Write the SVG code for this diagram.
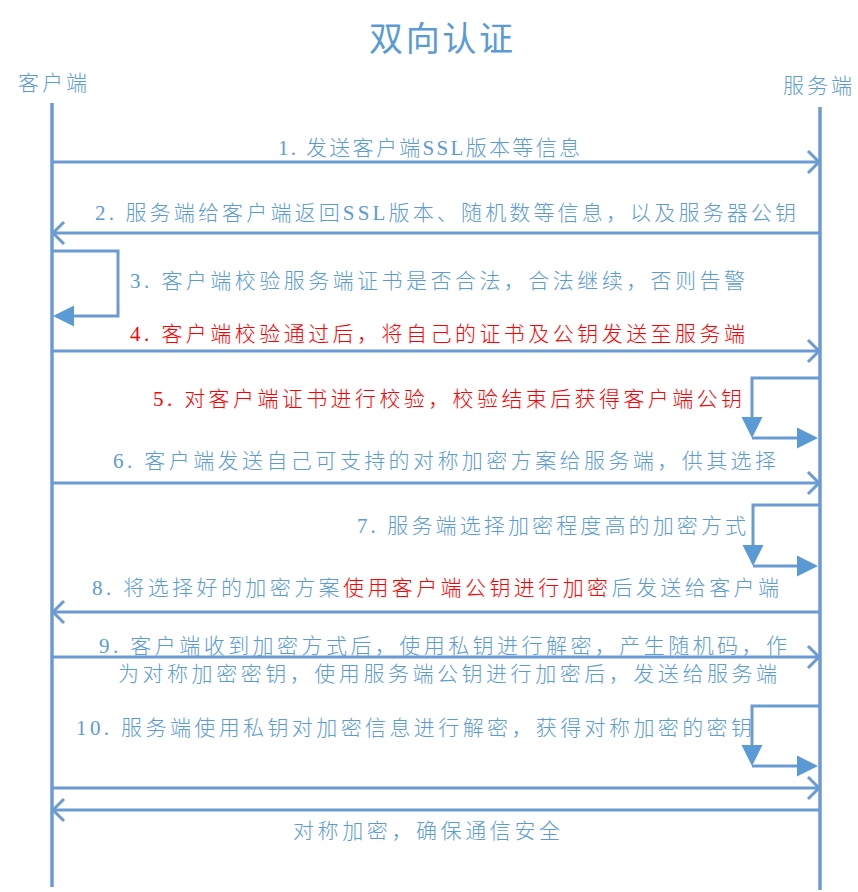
<svg xmlns="http://www.w3.org/2000/svg" width="858" height="892" viewBox="0 0 858 892">
<style>
.t{font-family:"Liberation Serif","Noto Sans CJK SC",serif;font-size:21px;font-weight:300;fill:#5b9bd5}
.r{fill:#ff0000}
.h{font-family:"Noto Sans CJK SC",sans-serif;font-size:34px;font-weight:400}
.lf{stroke:#6b9bd2;stroke-width:3.5;fill:none}
.c{stroke:#6b9bd2;stroke-width:3;fill:none}
</style>
<defs>
<marker id="open" markerUnits="userSpaceOnUse" viewBox="-14 -14 16 28" markerWidth="16" markerHeight="28" refX="0" refY="0" orient="auto" overflow="visible">
<path d="M-11,-11 L0,0 L-11,11" fill="none" stroke="#6b9bd2" stroke-width="3"/>
</marker>
<marker id="tri" markerUnits="userSpaceOnUse" viewBox="-19 -11 23 22" markerWidth="23" markerHeight="22" refX="0" refY="0" orient="auto" overflow="visible">
<path d="M-18,-10.5 L3,0 L-18,10.5 Z" fill="#5b9bd5"/>
</marker>
</defs>
<rect width="858" height="892" fill="#ffffff"/>
<text class="t h" x="369" y="51" textLength="144" lengthAdjust="spacing">双向认证</text>
<g id="client">
<text class="t" x="18" y="90" textLength="69" lengthAdjust="spacing">客户端</text>
<line class="lf" x1="52" y1="103" x2="52" y2="887"/>
</g>
<g id="server">
<text class="t" x="783" y="93" textLength="69" lengthAdjust="spacing">服务端</text>
<line class="lf" x1="820" y1="107" x2="820" y2="890"/>
</g>
<g id="connectors">
<path class="c" d="M52,162 H819" marker-end="url(#open)"/>
<path class="c" d="M820,233 H53" marker-end="url(#open)"/>
<path class="c" d="M52,251 H118 V316 H56" marker-end="url(#tri)"/>
<path class="c" d="M52,351 H819" marker-end="url(#open)"/>
<path class="c" d="M820,378 H752 V435" marker-end="url(#tri)"/>
<path class="c" d="M752,438 H815" marker-end="url(#tri)"/>
<path class="c" d="M52,483 H819" marker-end="url(#open)"/>
<path class="c" d="M820,505 H753 V563" marker-end="url(#tri)"/>
<path class="c" d="M753,566 H815" marker-end="url(#tri)"/>
<path class="c" d="M820,612 H53" marker-end="url(#open)"/>
<path class="c" d="M52,657 H819" marker-end="url(#open)"/>
<path class="c" d="M820,706 H752 V763" marker-end="url(#tri)"/>
<path class="c" d="M752,766 H815" marker-end="url(#tri)"/>
<path class="c" d="M52,788 H819" marker-end="url(#open)"/>
<path class="c" d="M820,810 H53" marker-end="url(#open)"/>
</g>
<g id="labels">
<text class="t" x="278" y="155" textLength="302" lengthAdjust="spacing">1. 发送客户端SSL版本等信息</text>
<text class="t" x="95" y="220" textLength="701" lengthAdjust="spacing">2. 服务端给客户端返回SSL版本、随机数等信息，以及服务器公钥</text>
<text class="t" x="130" y="288" textLength="615" lengthAdjust="spacing">3. 客户端校验服务端证书是否合法，合法继续，否则告警</text>
<text class="t r" x="130" y="341" textLength="615" lengthAdjust="spacing">4. 客户端校验通过后，将自己的证书及公钥发送至服务端</text>
<text class="t r" x="153" y="406" textLength="589" lengthAdjust="spacing">5. 对客户端证书进行校验，校验结束后获得客户端公钥</text>
<text class="t" x="113" y="468" textLength="663" lengthAdjust="spacing">6. 客户端发送自己可支持的对称加密方案给服务端，供其选择</text>
<text class="t" x="357" y="533" textLength="389" lengthAdjust="spacing">7. 服务端选择加密程度高的加密方式</text>
<text class="t" x="92" y="595" textLength="687" lengthAdjust="spacing">8. 将选择好的加密方案<tspan class="r">使用客户端公钥进行加密</tspan>后发送给客户端</text>
<text class="t" x="99" y="653" textLength="688" lengthAdjust="spacing">9. 客户端收到加密方式后，使用私钥进行解密，产生随机码，作</text>
<text class="t" x="118" y="681" textLength="659" lengthAdjust="spacing">为对称加密密钥，使用服务端公钥进行加密后，发送给服务端</text>
<text class="t" x="76" y="735" textLength="676" lengthAdjust="spacing">10. 服务端使用私钥对加密信息进行解密，获得对称加密的密钥</text>
<text class="t" x="293" y="838" textLength="267" lengthAdjust="spacing">对称加密，确保通信安全</text>
</g>
</svg>
